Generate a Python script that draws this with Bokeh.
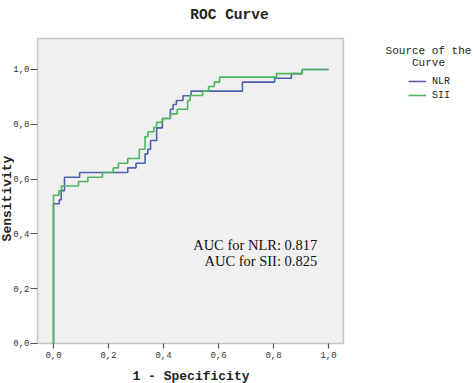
import math
from bokeh.plotting import figure
from bokeh.models import (Range1d, Label, Legend, LegendItem, FixedTicker,
                          BoxAnnotation)
from bokeh.embed import file_html
from bokeh.resources import INLINE

# ---- data ----
nlr_fpr = [0.0, 0.0, 0.021, 0.028, 0.040, 0.095, 0.270, 0.300, 0.333, 0.343, 0.353,
           0.375, 0.396, 0.425, 0.435, 0.447, 0.471, 0.500, 0.687, 0.804, 0.865, 0.904, 1.0]
nlr_tpr = [0.0, 0.510, 0.524, 0.558, 0.607, 0.624, 0.641, 0.658, 0.692, 0.709, 0.741,
           0.787, 0.821, 0.855, 0.872, 0.887, 0.904, 0.921, 0.954, 0.968, 0.985, 1.0, 1.0]

sii_fpr = [0.0, 0.0, 0.020, 0.029, 0.091, 0.125, 0.178, 0.217, 0.236, 0.270, 0.312,
           0.333, 0.343, 0.365, 0.375, 0.396, 0.425, 0.450, 0.488, 0.497, 0.542,
           0.564, 0.585, 0.604, 0.811, 0.905, 1.0]
sii_tpr = [0.0, 0.541, 0.558, 0.575, 0.591, 0.607, 0.624, 0.641, 0.658, 0.675, 0.709,
           0.755, 0.773, 0.789, 0.807, 0.821, 0.838, 0.855, 0.887, 0.905, 0.921,
           0.938, 0.954, 0.972, 0.985, 1.0, 1.0]

tick_values = [0.0, 0.2, 0.4, 0.6, 0.8, 1.0]
tick_labels = ["0,0", "0,2", "0,4", "0,6", "0,8", "1,0"]
series_names = ["NLR", "SII"]
auc_texts = ["AUC for NLR: 0.817", "AUC for SII: 0.825"]
legend_title = ["Source of the", "Curve"]

BLUE = "#4d62ae"
GREEN = "#4cb85e"
MONO = "Liberation Mono"
W, H = 474, 383

# plotting-area extents (data units)
AREA_LEFT, AREA_RIGHT, AREA_BOTTOM, AREA_TOP = -0.0582, 1.0545, 0.0, 1.1131

p = figure(width=W, height=H, output_backend="svg", toolbar_location=None,
           x_range=Range1d(-0.1927, 1.5309), y_range=Range1d(-0.1460, 1.2518),
           min_border=0)
p.title.visible = False
p.background_fill_color = "white"
p.border_fill_color = "white"
p.outline_line_color = None
p.xgrid.visible = False
p.ygrid.visible = False

p.add_layout(BoxAnnotation(left=AREA_LEFT, right=AREA_RIGHT, bottom=AREA_BOTTOM,
                           top=AREA_TOP, fill_color="#f0f0f0", fill_alpha=1.0,
                           line_color="#555555", line_width=1.5, level="underlay"))

p.xaxis.fixed_location = AREA_BOTTOM
p.yaxis.fixed_location = AREA_LEFT
for ax in (p.xaxis[0], p.yaxis[0]):
    ax.ticker = FixedTicker(ticks=tick_values)
    ax.major_label_overrides = dict(zip(tick_values, tick_labels))
    ax.minor_tick_line_color = None
    ax.axis_line_color = None
    ax.major_tick_in = 0
    ax.major_tick_line_color = "#555555"
    ax.major_tick_line_width = 1.2
    ax.major_label_text_font = MONO
    ax.major_label_text_font_size = "9px"
    ax.major_label_text_color = "#333333"
p.xaxis.major_tick_out = 5
p.xaxis.major_label_standoff = 4
p.yaxis.major_tick_out = 7
p.yaxis.major_label_standoff = 1

r1 = p.step(nlr_fpr, nlr_tpr, mode="after", line_color=BLUE, line_width=1.6)
r2 = p.step(sii_fpr, sii_tpr, mode="after", line_color=GREEN, line_width=1.6)

auc_y = [0.361, 0.300]
for t, yy in zip(auc_texts, auc_y):
    p.add_layout(Label(text=t, x=0.959, y=yy, text_font="Liberation Serif",
                       text_font_size="14.5px", text_align="right",
                       text_baseline="middle", text_color="#111111"))

def slabel(text, x, y, size, bold=True, angle=0.0):
    p.add_layout(Label(text=text, x=x, y=y, x_units="screen", y_units="screen",
                       text_font=MONO, text_font_size=size,
                       text_font_style="bold" if bold else "normal",
                       text_align="center", text_baseline="middle", angle=angle,
                       text_color="#222222"))

slabel("ROC Curve", 229, H - 14, "14.5px")
slabel("1 - Specificity", 190.5, H - 376, "13px")
slabel("Sensitivity", 7, H - 198, "13px", angle=math.pi / 2)
slabel(legend_title[0], 428, H - 50.7, "11px", bold=False)
slabel(legend_title[1], 428, H - 62.3, "11px", bold=False)

legend = Legend(items=[LegendItem(label=series_names[0], renderers=[r1]),
                       LegendItem(label=series_names[1], renderers=[r2])],
                location=(408, H - 102), padding=0, spacing=0, margin=0,
                glyph_width=18, glyph_height=14, label_height=14, label_standoff=6,
                label_text_font=MONO, label_text_font_size="10px",
                label_text_color="#222222",
                border_line_color=None, background_fill_alpha=0)
p.add_layout(legend)

open("out.html", "w").write(file_html(p, INLINE))
